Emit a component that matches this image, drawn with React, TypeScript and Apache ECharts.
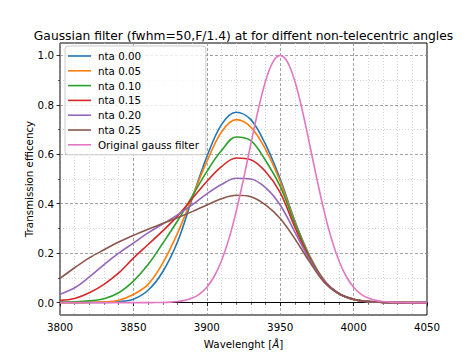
import React, { useEffect, useRef } from "react";
import * as echarts from "echarts";

const wavelengths = [
  3800, 3810, 3820, 3830, 3840, 3850, 3860, 3870, 3880, 3890, 3900, 3910, 3920,
  3930, 3940, 3950, 3960, 3970, 3980, 3990, 4000, 4010, 4020, 4030, 4040, 4050,
];
const nta000 = [0, 0, 0.0005, 0.001, 0.004, 0.014, 0.05, 0.125, 0.245, 0.42, 0.59, 0.72, 0.77, 0.74, 0.64, 0.5, 0.33, 0.19, 0.09, 0.037, 0.013, 0.004, 0.001, 0, 0, 0];
const nta005 = [0, 0, 0.001, 0.003, 0.01, 0.033, 0.074, 0.16, 0.28, 0.425, 0.57, 0.69, 0.74, 0.71, 0.62, 0.49, 0.325, 0.188, 0.09, 0.037, 0.013, 0.004, 0.001, 0, 0, 0];
const nta010 = [0.002, 0.003, 0.007, 0.016, 0.04, 0.087, 0.154, 0.24, 0.33, 0.43, 0.53, 0.615, 0.67, 0.655, 0.575, 0.47, 0.32, 0.185, 0.088, 0.036, 0.013, 0.004, 0.001, 0, 0, 0];
const nta015 = [0.009, 0.017, 0.04, 0.074, 0.12, 0.18, 0.235, 0.29, 0.35, 0.42, 0.49, 0.55, 0.585, 0.578, 0.53, 0.445, 0.305, 0.18, 0.087, 0.036, 0.013, 0.004, 0.001, 0, 0, 0];
const nta020 = [0.034, 0.06, 0.104, 0.154, 0.2, 0.241, 0.282, 0.318, 0.355, 0.395, 0.44, 0.478, 0.503, 0.5, 0.465, 0.395, 0.285, 0.175, 0.085, 0.036, 0.014, 0.004, 0.001, 0, 0, 0];
const nta025 = [0.098, 0.141, 0.181, 0.214, 0.245, 0.272, 0.297, 0.32, 0.343, 0.368, 0.395, 0.42, 0.434, 0.428, 0.395, 0.34, 0.258, 0.165, 0.082, 0.036, 0.015, 0.005, 0.001, 0, 0, 0];

const gaussWavelengths = [
  3800, 3810, 3820, 3830, 3840, 3850, 3860, 3865, 3870, 3875, 3880, 3885, 3890,
  3895, 3900, 3905, 3910, 3915, 3920, 3925, 3930, 3935, 3940, 3945, 3950, 3955,
  3960, 3965, 3970, 3975, 3980, 3985, 3990, 3995, 4000, 4005, 4010, 4015, 4020,
  4025, 4030, 4035, 4040, 4050,
];
const gaussFilter = [
  0, 0, 0, 0, 0, 0, 0.0001, 0.0003, 0.0008, 0.0019, 0.0043, 0.0092, 0.0184,
  0.0348, 0.0624, 0.1057, 0.1694, 0.2568, 0.3683, 0.4998, 0.6415, 0.779, 0.895, 0.9726, 1.0, 0.9726,
  0.895, 0.779, 0.6415, 0.4998, 0.3683, 0.2568, 0.1694, 0.1057, 0.0624, 0.0348, 0.0184, 0.0092, 0.0043,
  0.0019, 0.0008, 0.0003, 0.0001, 0,
];

const seriesNames = ["nta 0.00", "nta 0.05", "nta 0.10", "nta 0.15", "nta 0.20", "nta 0.25", "Original gauss filter"];
const seriesColors = ["#1f77b4", "#ff7f0e", "#2ca02c", "#d62728", "#9467bd", "#8c564b", "#e377c2"];

const FONT = "DejaVu Sans";

export default function App() {
  const ref = useRef<HTMLDivElement>(null);
  useEffect(() => {
    document.body.style.margin = "0";
    const chart = echarts.init(ref.current!, null, { renderer: "svg" });
    const curves = [nta000, nta005, nta010, nta015, nta020, nta025];
    const series: any[] = curves.map((vals, i) => ({
      name: seriesNames[i],
      type: "line",
      xAxisIndex: 1,
      yAxisIndex: 1,
      data: wavelengths.map((w, j) => [w, vals[j]]),
      smooth: 0.35,
      symbol: "none",
      clip: false,
      lineStyle: { color: seriesColors[i], width: 1.6 },
      itemStyle: { color: seriesColors[i] },
      z: 3 + i,
    }));
    series.push({
      name: seriesNames[6],
      type: "line",
      xAxisIndex: 1,
      yAxisIndex: 1,
      data: gaussWavelengths.map((w, j) => [w, gaussFilter[j]]),
      smooth: 0.35,
      symbol: "none",
      clip: false,
      lineStyle: { color: seriesColors[6], width: 1.6 },
      itemStyle: { color: seriesColors[6] },
      z: 10,
    });

    const majorLine = { show: true, lineStyle: { color: "#8a8a8a", type: [3, 2], width: 0.8 } };
    const minorLine = { show: true, lineStyle: { color: "#c8c8c8", type: [1, 2], width: 0.8 } };

    chart.setOption({
      animation: false,
      textStyle: { fontFamily: FONT },
      title: {
        text: "Gaussian filter (fwhm=50,F/1.4) at for diffent non-telecentric angles",
        left: 238.5,
        textAlign: "center",
        top: 25,
        textStyle: { fontFamily: FONT, fontSize: 12.3, fontWeight: "normal", color: "#000" },
      },
      legend: {
        data: seriesNames.map((n) => ({ name: n, icon: "rect" })),
        orient: "vertical",
        left: 65,
        top: 46,
        itemWidth: 23,
        itemHeight: 1.6,
        itemGap: 4.8,
        padding: [5, 7, 5, 3],
        backgroundColor: "rgba(255,255,255,0.8)",
        borderColor: "#cccccc",
        borderWidth: 1,
        borderRadius: 3,
        textStyle: { fontFamily: FONT, fontSize: 10.3, color: "#000", padding: [0, 0, 0, 2] },
      },
      grid: [
        { left: 60, right: 47, top: 43, bottom: 40, show: true, borderColor: "#000", borderWidth: 1, backgroundColor: "transparent" },
        { left: 60, right: 47, top: 55.36, bottom: 52.36 },
      ],
      xAxis: [
        {
          type: "value",
          gridIndex: 0,
          min: 3800,
          max: 4050,
          interval: 50,
          name: "{n|Wavelenght [}{i|Å}{n|]}",
          nameLocation: "middle",
          nameGap: 24,
          nameTextStyle: {
            rich: {
              n: { fontFamily: FONT, fontSize: 10.3, color: "#000" },
              i: { fontFamily: FONT, fontSize: 10.3, color: "#000", fontStyle: "italic" },
            },
          },
          axisLine: { show: true, lineStyle: { color: "#000", width: 1 } },
          axisTick: { show: true, length: 3.5, lineStyle: { color: "#000", width: 0.8 } },
          minorTick: { show: true, splitNumber: 5, length: 2, lineStyle: { color: "#000", width: 0.6 } },
          axisLabel: { fontFamily: FONT, fontSize: 10.3, color: "#000", margin: 7, formatter: (v: number) => String(v) },
          splitLine: majorLine,
          minorSplitLine: minorLine,
        },
        { type: "value", gridIndex: 1, min: 3800, max: 4050, interval: 50, show: false },
      ],
      yAxis: [
        { type: "value", gridIndex: 0, min: -0.05, max: 1.05, show: false, splitLine: { show: false } },
        {
          type: "value",
          gridIndex: 1,
          min: 0,
          max: 1,
          interval: 0.2,
          name: "Transmission efficency",
          nameLocation: "middle",
          nameGap: 26,
          nameMoveOverlap: false,
          nameTextStyle: { fontFamily: FONT, fontSize: 10.3, color: "#000" },
          axisLine: { show: false },
          axisTick: { show: true, length: 3.5, lineStyle: { color: "#000", width: 0.8 } },
          minorTick: { show: true, splitNumber: 2, length: 2, lineStyle: { color: "#000", width: 0.6 } },
          axisLabel: {
            fontFamily: FONT,
            fontSize: 10.3,
            color: "#000",
            margin: 6,
            formatter: (v: number) => v.toFixed(1),
          },
          splitLine: majorLine,
          minorSplitLine: minorLine,
        },
      ],
      series,
    });
    return () => chart.dispose();
  }, []);
  return <div ref={ref} style={{ width: 474, height: 355 }} />;
}
